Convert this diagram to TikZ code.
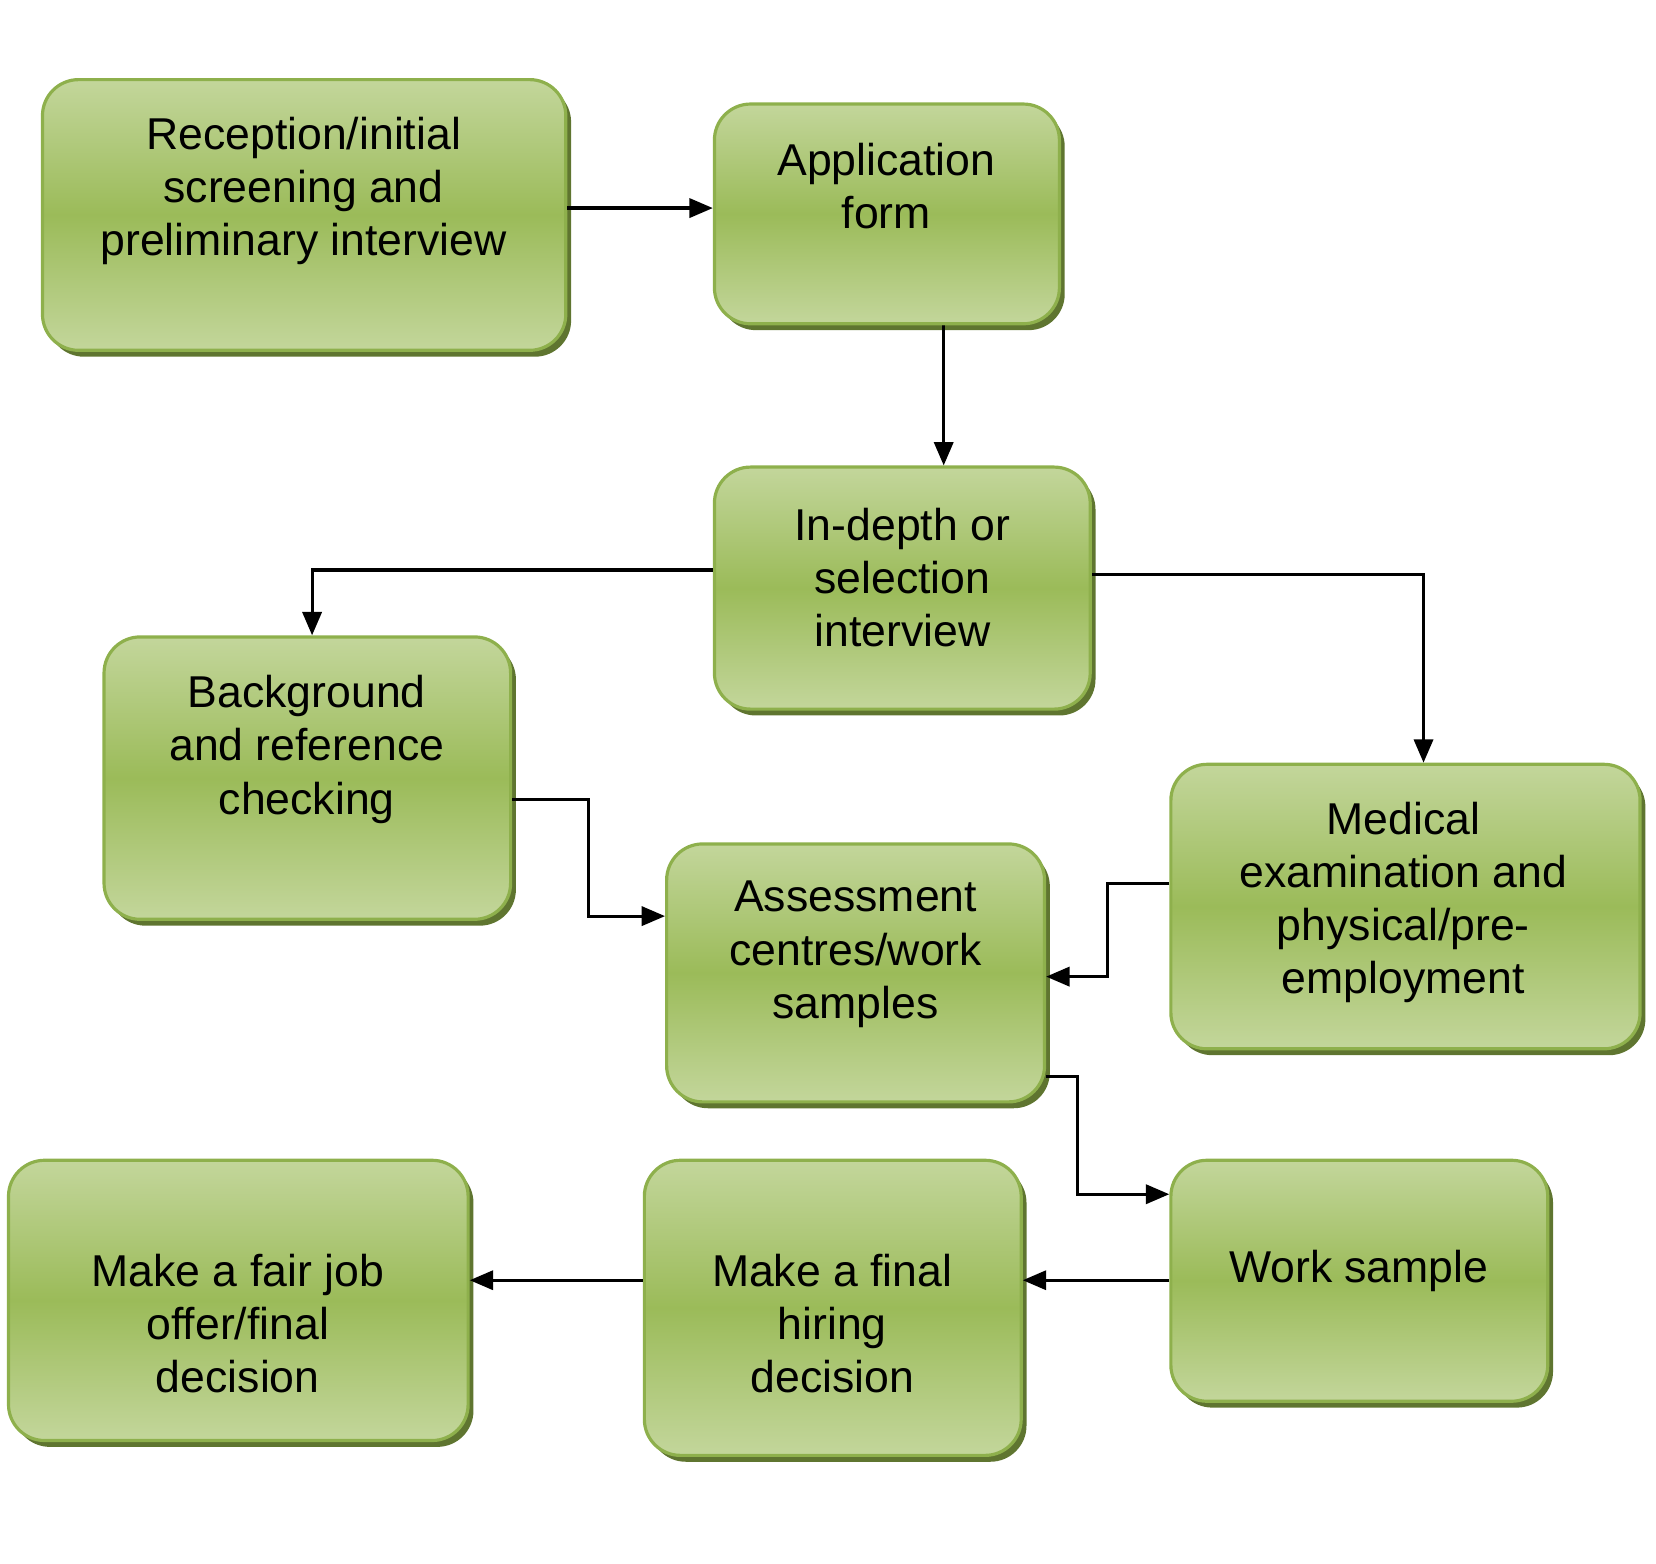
\documentclass[tikz,border=0pt]{standalone}
\usepackage{fontspec}
\setmainfont{Liberation Sans}
\usetikzlibrary{shadows,arrows.meta}
\definecolor{gl}{HTML}{C3D69B}
\definecolor{gm}{HTML}{9BBB59}
\definecolor{gb}{HTML}{8EB04C}
\definecolor{gs}{HTML}{5F7530}
\begin{document}
\begin{tikzpicture}[x=0.5pt,y=-0.5pt,
 box/.style={rounded corners=17pt,draw=gb,line width=1.5pt,top color=gl,bottom color=gl,middle color=gm,
   drop shadow={shadow xshift=2.5pt,shadow yshift=-3pt,fill=gs,opacity=1},inner sep=0pt},
 lbl/.style={align=center,font=\fontsize{21}{25}\selectfont,inner sep=0pt},
 arr/.style={line width=1.5pt,-{Triangle[length=11pt,width=9pt]}}]
\useasboundingbox (0,0) rectangle (1560,1473);
\newcommand{\bx}[5]{\node[box,minimum width=#4*0.5pt,minimum height=#5*0.5pt] (#1) at (#2,#3) {};}
\bx{A}{286.5}{202.5}{493}{255}
\bx{B}{835.5}{201.5}{325}{207}
\bx{C}{850}{554}{354}{228}
\bx{D}{289.5}{733}{383}{266}
\bx{E}{1324}{854}{442}{268}
\bx{F}{806}{916.5}{356}{243}
\bx{G}{1280.5}{1206.5}{355}{227}
\bx{H}{784.5}{1232}{355}{278}
\bx{I}{224.5}{1225}{433}{264}
\node[lbl] (tA) at (286,180) {Reception/initial\\screening and\\preliminary interview};
\node[lbl] (tB) at (835,175) {Application\\form};
\node[lbl] (tC) at (850,544) {In-depth or\\selection\\interview};
\node[lbl] (tD) at (289,706) {Background\\and reference\\checking};
\node[lbl] (tE) at (1322,850) {Medical\\examination and\\physical/pre-\\employment};
\node[lbl] (tF) at (806,899) {Assessment\\centres/work\\samples};
\node[lbl] (tG) at (1280,1197) {Work sample};
\node[lbl] (tH) at (784,1247) {Make a final\\hiring\\decision};
\node[lbl] (tI) at (224,1247) {Make a fair job\\offer/final\\decision};
\draw[arr] (A.east |- 0,196) -- (B.west |- 0,196);
\draw[arr] (889,313) -- (B.south -| 889,0) -- (C.north -| 889,0);
\draw[arr] (C.west |- 0,537) -| (D.north -| 294,0);
\draw[arr] (C.east |- 0,541) -| (E.north -| 1341,0);
\draw[arr] (D.east |- 0,753) -| (554,863) -- (F.west |- 0,863);
\draw[arr] (E.west |- 0,832) -| (1043,920) -- (F.east |- 0,920);
\draw[arr] (F.east |- 0,1014) -| (1015,1125) -- (G.west |- 0,1125);
\draw[arr] (G.west |- 0,1206) -- (H.east |- 0,1206);
\draw[arr] (H.west |- 0,1206) -- (I.east |- 0,1206);
\end{tikzpicture}
\end{document}
